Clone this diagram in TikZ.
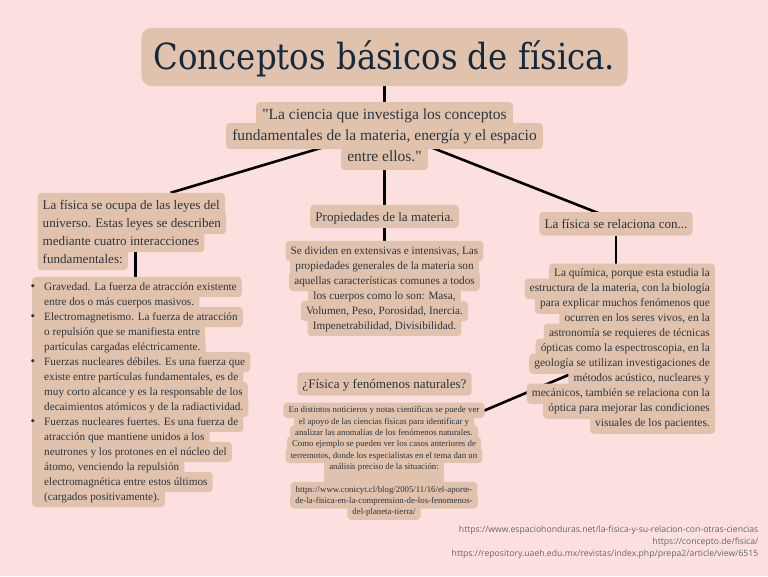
\documentclass[tikz,border=0pt]{standalone}
\usepackage{fontspec}
\setmainfont{Liberation Serif}
\newfontfamily\plainserif{Liberation Serif}
\newfontfamily\titlefont[FakeStretch=0.9]{DejaVu Serif}
\newfontfamily\sourcefont{Open Sans}
\definecolor{pagepink}{HTML}{FCE0E0}
\definecolor{hlfill}{HTML}{E1C3AD}
\definecolor{inkblue}{HTML}{14293D}
\definecolor{inkgray}{HTML}{2B3540}
\definecolor{sourcegray}{HTML}{666666}
\pgfdeclarelayer{page}
\pgfdeclarelayer{lines}
\pgfdeclarelayer{fills}
\pgfsetlayers{page,lines,fills,main}
\tikzset{
  rowtext/.style={text=inkgray, inner ysep=0pt, anchor=base},
  quoterow/.style={rowtext, font=\fontsize{15.5}{15}\selectfont, text height=17pt, text depth=9pt, inner xsep=6pt},
  headrow/.style={rowtext, font=\fontsize{13.1}{15}\selectfont, text height=16pt, text depth=7pt, inner xsep=5pt},
  listrow/.style={rowtext, font=\fontsize{11.2}{15}\selectfont, text height=13pt, text depth=7pt, inner xsep=5pt},
  quimrow/.style={listrow, font=\fontsize{11.4}{15}\selectfont, anchor=base east},
  smallrow/.style={rowtext, font=\fontsize{8.8}{15}\selectfont, text height=10pt, text depth=5pt, inner xsep=5pt},
  conn/.style={line width=2.6pt, black},
  source/.style={text=sourcegray, font=\sourcefont\fontsize{8.65}{12}\selectfont, inner sep=0pt, anchor=base east}
}
% one highlighted line of text
\newcommand{\hlrow}[4]{%
  \node[#1] (#2) at #3 {#4};
  \begin{pgfonlayer}{fills}
    \fill[hlfill, rounded corners=4pt] (#2.south west) rectangle (#2.north east);
  \end{pgfonlayer}}
\begin{document}
\begin{tikzpicture}[x=1pt,y=-1pt]
  \begin{pgfonlayer}{page}
    \fill[pagepink] (0,0) rectangle (768,576);
  \end{pgfonlayer}
  \useasboundingbox (0,0) rectangle (768,576);

  % title
  \node[text=inkblue, font=\titlefont\fontsize{36}{36}\selectfont, inner xsep=12pt, inner ysep=0pt,
        text height=41pt, text depth=17pt, anchor=base] (titlebox) at (384.5,69) {Conceptos básicos de física.};
  \begin{pgfonlayer}{fills}
    \fill[hlfill, rounded corners=10pt] (titlebox.south west) rectangle (titlebox.north east);
  \end{pgfonlayer}

  % quote
  \hlrow{quoterow}{quoteA}{(384.5,119)}{{\plainserif"}La ciencia que investiga los conceptos}
  \hlrow{quoterow}{quoteB}{(384.5,140)}{fundamentales de la materia, energía y el espacio}
  \hlrow{quoterow}{quoteC}{(384.5,161)}{entre ellos.{\plainserif"}}

  % left branch
  \hlrow{headrow, anchor=base west}{fisicaA}{(37.5,209)}{La física se ocupa de las leyes del}
  \hlrow{headrow, anchor=base west}{fisicaB}{(37.5,227)}{universo. Estas leyes se describen}
  \hlrow{headrow, anchor=base west}{fisicaC}{(37.5,245)}{mediante cuatro interacciones}
  \hlrow{headrow, anchor=base west}{fisicaD}{(37.5,263)}{fundamentales:}

  \begin{pgfonlayer}{fills}
    \fill[hlfill, rounded corners=4pt] (32,277) rectangle (50,507);
  \end{pgfonlayer}
  \hlrow{listrow, anchor=base west}{listA}{(39,290)}{Gravedad. La fuerza de atracción existente}
  \hlrow{listrow, anchor=base west}{listB}{(39,305)}{entre dos o más cuerpos masivos.}
  \hlrow{listrow, anchor=base west}{listC}{(39,320)}{Electromagnetismo. La fuerza de atracción}
  \hlrow{listrow, anchor=base west}{listD}{(39,335)}{o repulsión que se manifiesta entre}
  \hlrow{listrow, anchor=base west}{listE}{(39,350)}{partículas cargadas eléctricamente.}
  \hlrow{listrow, anchor=base west}{listF}{(39,365)}{Fuerzas nucleares débiles. Es una fuerza que}
  \hlrow{listrow, anchor=base west}{listG}{(39,380)}{existe entre partículas fundamentales, es de}
  \hlrow{listrow, anchor=base west}{listH}{(39,395)}{muy corto alcance y es la responsable de los}
  \hlrow{listrow, anchor=base west}{listI}{(39,410)}{decaimientos atómicos y de la radiactividad.}
  \hlrow{listrow, anchor=base west}{listJ}{(39,425)}{Fuerzas nucleares fuertes. Es una fuerza de}
  \hlrow{listrow, anchor=base west}{listK}{(39,440)}{atracción que mantiene unidos a los}
  \hlrow{listrow, anchor=base west}{listL}{(39,455)}{neutrones y los protones en el núcleo del}
  \hlrow{listrow, anchor=base west}{listM}{(39,470)}{átomo, venciendo la repulsión}
  \hlrow{listrow, anchor=base west}{listN}{(39,485)}{electromagnética entre estos últimos}
  \hlrow{listrow, anchor=base west}{listO}{(39,500)}{(cargados positivamente).}
  \foreach \y/\bname in {290/bulletA, 320/bulletB, 365/bulletC, 425/bulletD}
    \node[rowtext, inner xsep=0pt, font=\fontsize{13}{15}\selectfont] (\bname) at (33,\y) {•};

  % centre branch
  \hlrow{headrow}{propbox}{(384.5,221)}{Propiedades de la materia.}
  \hlrow{listrow}{propA}{(384.5,254)}{Se dividen en extensivas e intensivas, Las}
  \hlrow{listrow}{propB}{(384.5,269)}{propiedades generales de la materia son}
  \hlrow{listrow}{propC}{(384.5,284)}{aquellas características comunes a todos}
  \hlrow{listrow}{propD}{(384.5,299)}{los cuerpos como lo son: Masa,}
  \hlrow{listrow}{propE}{(384.5,314)}{Volumen, Peso, Porosidad, Inercia.}
  \hlrow{listrow}{propF}{(384.5,329)}{Impenetrabilidad, Divisibilidad.}

  \hlrow{headrow}{natbox}{(384.5,388.5)}{¿Física y fenómenos naturales?}
  \hlrow{smallrow}{natA}{(384,412.7)}{En distintos noticieros y notas científicas se puede ver}
  \hlrow{smallrow}{natB}{(384,424)}{el apoyo de las ciencias físicas para identificar y}
  \hlrow{smallrow}{natC}{(384,435.3)}{analizar las anomalías de los fenómenos naturales.}
  \hlrow{smallrow}{natD}{(384,446.6)}{Como ejemplo se pueden ver los casos anteriores de}
  \hlrow{smallrow}{natE}{(384,458)}{terremotos, donde los especialistas en el tema dan un}
  \hlrow{smallrow}{natF}{(384,469.3)}{análisis preciso de la situación:}
  \hlrow{smallrow}{natG}{(384,480.6)}{\phantom{análisis preciso de la situación:}}
  \hlrow{smallrow}{natH}{(384,492)}{https://www.conicyt.cl/blog/2005/11/16/el-aporte-}
  \hlrow{smallrow}{natI}{(384,503.3)}{de-la-fisica-en-la-comprension-de-los-fenomenos-}
  \hlrow{smallrow}{natJ}{(384,514.6)}{del-planeta-tierra/}

  % right branch
  \hlrow{headrow}{relbox}{(616,228.3)}{La física se relaciona con...}
  \hlrow{quimrow}{quimA}{(715,276.7)}{La química, porque esta estudia la}
  \hlrow{quimrow}{quimB}{(715,291.7)}{estructura de la materia, con la biología}
  \hlrow{quimrow}{quimC}{(715,306.7)}{para explicar muchos fenómenos que}
  \hlrow{quimrow}{quimD}{(715,321.7)}{ocurren en los seres vivos, en la}
  \hlrow{quimrow}{quimE}{(715,336.7)}{astronomía se requieres de técnicas}
  \hlrow{quimrow}{quimF}{(715,351.7)}{ópticas como la espectroscopia, en la}
  \hlrow{quimrow}{quimG}{(715,366.7)}{geología se utilizan investigaciones de}
  \hlrow{quimrow}{quimH}{(715,381.7)}{métodos acústico, nucleares y}
  \hlrow{quimrow}{quimI}{(715,396.7)}{mecánicos, también se relaciona con la}
  \hlrow{quimrow}{quimJ}{(715,411.7)}{óptica para mejorar las condiciones}
  \hlrow{quimrow}{quimK}{(715,426.7)}{visuales de los pacientes.}

  % sources
  \node[source] (sourceA) at (758.5,532.3) {https://www.espaciohonduras.net/la-fisica-y-su-relacion-con-otras-ciencias};
  \node[source] (sourceB) at (758.5,544.3) {https://concepto.de/fisica/};
  \node[source] (sourceC) at (758.5,556.3) {https://repository.uaeh.edu.mx/revistas/index.php/prepa2/article/view/6515};

  % connectors
  \coordinate (quotehub) at (384.5,129);
  \coordinate (relhub) at (616,220);
  \coordinate (fisicadrop) at (135.7,245);
  \coordinate (natmid) at (384,453);
  \coordinate (quimmid) at (618,354);
  \begin{pgfonlayer}{lines}
    \draw[conn] (titlebox) -- (quoteA);
    \draw[conn] (quotehub) -- (fisicaA);
    \draw[conn] (quotehub) -- (relhub);
    \draw[conn] (quoteC) -- (propbox);
    \draw[conn] (propbox) -- (propA);
    \draw[conn] (fisicadrop) -- (fisicadrop |- listA);
    \draw[conn] (relbox) -- (relbox |- quimA);
    \draw[conn] (natmid) -- (quimmid);
  \end{pgfonlayer}
\end{tikzpicture}
\end{document}
